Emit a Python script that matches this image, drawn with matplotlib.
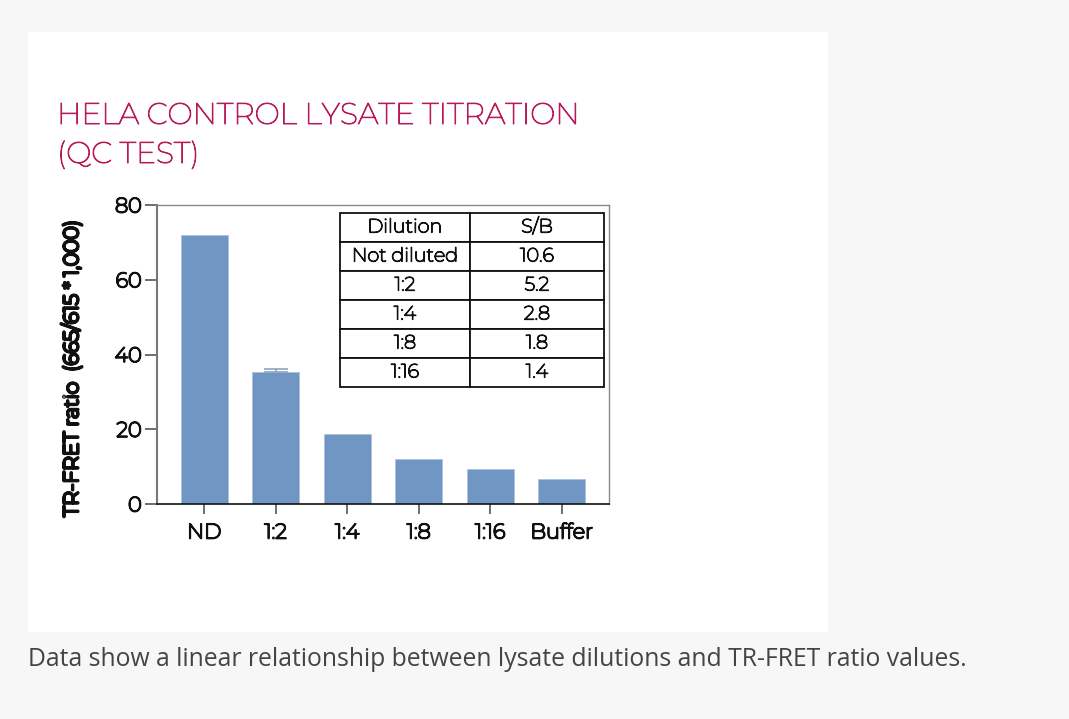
import matplotlib
matplotlib.use("Agg")
import matplotlib.pyplot as plt
from matplotlib.patches import Rectangle
import matplotlib.patheffects as pe

categories = ["ND", "1:2", "1:4", "1:8", "1:16", "Buffer"]
values = [72.0, 35.2, 18.7, 12.0, 9.4, 6.7]
errors = [0, 1.0, 0, 0, 0, 0]
yticks = [0, 20, 40, 60, 80]
table_header = ["Dilution", "S/B"]
table_dilutions = ["Not diluted", "1:2", "1:4", "1:8", "1:16"]
table_sb = ["10.6", "5.2", "2.8", "1.8", "1.4"]

W, H = 1069, 719
fig = plt.figure(figsize=(W / 100, H / 100), dpi=100)
fig.patch.set_facecolor("#f7f7f7")

# white card
card = Rectangle((28 / W, 1 - 632 / H), 800 / W, 600 / H,
                 transform=fig.transFigure, facecolor="white",
                 edgecolor="none", zorder=-5)
fig.patches.append(card)

TF = ["Montserrat", "Inter", "DejaVu Sans"]

def thick(lw, col):
    return [pe.withStroke(linewidth=lw, foreground=col)]

TC = "#b8195a"
fig.text(57 / W, 1 - 116 / H, "HELA CONTROL LYSATE TITRATION", color=TC,
         fontsize=21.5, family=TF, va="center", ha="left", path_effects=thick(0.7, TC))
fig.text(57 / W, 1 - 155 / H, "(QC TEST)", color=TC,
         fontsize=21.5, family=TF, va="center", ha="left", path_effects=thick(0.7, TC))

fig.text(28 / W, 1 - 659 / H,
         "Data show a linear relationship between lysate dilutions and TR-FRET ratio values.",
         color="#444444", fontsize=17.8, family=["Open Sans", "DejaVu Sans"],
         va="center", ha="left")

ax = fig.add_axes([157 / W, 1 - 504 / H, 452 / W, 299 / H])
ax.set_facecolor("white")
x = list(range(len(categories)))
ax.bar(x, values, width=0.66, color="#7097c3", edgecolor="#a9c0dc", linewidth=0.6, zorder=2)
ax.errorbar(x[1:2], values[1:2], yerr=[[0], errors[1:2]], fmt="none",
            ecolor="#8fa3bf", elinewidth=1.2, capsize=8.5, capthick=1.2, zorder=3)

ax.set_xlim(-0.66, 5.66)
ax.set_ylim(0, 80)
ax.set_yticks(yticks)
ax.set_yticklabels([str(v) for v in yticks])
ax.set_xticks(x)
ax.set_xticklabels(categories)
for lab in ax.get_xticklabels() + ax.get_yticklabels():
    lab.set_family(TF)
    lab.set_fontsize(15)
    lab.set_color("#111111")
    lab.set_path_effects(thick(1.3, "#111111"))
ax.tick_params(axis="y", direction="out", length=9, width=1.2, color="#555555", pad=2)
ax.tick_params(axis="x", direction="out", length=7, width=1.2, color="#555555", pad=7)

ax.spines["left"].set_color("#777777")
ax.spines["left"].set_linewidth(1.5)
ax.spines["bottom"].set_color("#111111")
ax.spines["bottom"].set_linewidth(1.2)
ax.spines["top"].set_color("#888888")
ax.spines["top"].set_linewidth(1.0)
ax.spines["right"].set_color("#888888")
ax.spines["right"].set_linewidth(1.0)

fig.text(71 / W, 1 - 368 / H, "TR-FRET ratio  (665/615 * 1,000)", rotation=90,
         fontsize=14.6, family=TF, va="center", ha="center", color="#111111",
         path_effects=thick(2.2, "#111111"))

cell_text = [table_header] + [[d, s] for d, s in zip(table_dilutions, table_sb)]
tbl = ax.table(cellText=cell_text, cellLoc="center",
               colWidths=[0.492, 0.508],
               bbox=[(340 - 157) / 452, (504 - 387) / 299, 264 / 452, 174 / 299])
tbl.auto_set_font_size(False)
for (r, c), cell in tbl.get_celld().items():
    cell.set_edgecolor("#111111")
    cell.set_linewidth(1.3)
    cell.set_facecolor("white")
    t = cell.get_text()
    t.set_fontsize(13.8)
    t.set_family(TF)
    t.set_color("#111111")
    t.set_path_effects(thick(0.9, "#111111"))
tbl.set_zorder(5)

fig.savefig("out.png", dpi=100, facecolor=fig.get_facecolor())
